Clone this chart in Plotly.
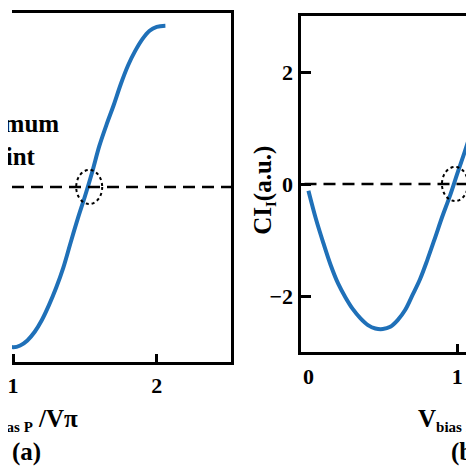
import plotly.graph_objects as go

# (a) normalised bias V_bias P / V_pi vs signal
bias_p = [0.95, 1.00, 1.05, 1.10, 1.15, 1.20, 1.25, 1.30, 1.35, 1.40, 1.45, 1.50,
          1.55, 1.60, 1.65, 1.70, 1.75, 1.80, 1.85, 1.90, 1.95, 2.00, 2.06]
sig_p = [-2.81, -2.86, -2.83, -2.74, -2.59, -2.38, -2.11, -1.80, -1.44, -1.00, -0.57, -0.17,
         0.26, 0.73, 1.11, 1.46, 1.84, 2.17, 2.43, 2.64, 2.79, 2.86, 2.88]

# (b) normalised bias V_bias I / V_pi vs CI_I (a.u.)
bias_i = [0.00, 0.05, 0.10, 0.15, 0.20, 0.25, 0.30, 0.35, 0.40, 0.45, 0.50, 0.55,
          0.60, 0.65, 0.70, 0.75, 0.80, 0.85, 0.90, 0.95, 1.00, 1.05, 1.10, 1.15]
ci_i = [-0.12, -0.62, -1.05, -1.45, -1.78, -2.03, -2.24, -2.40, -2.52, -2.58, -2.59, -2.55,
        -2.43, -2.25, -1.98, -1.70, -1.35, -0.97, -0.58, -0.22, 0.18, 0.57, 0.97, 1.34]

# operating points (circled)
op_a = (1.53, 0.0)
op_b = (0.985, 0.0)

# the page sits 8px in from the window corner, so positions below are window pixels minus 8
W = H = 466
OFF = 8
BLUE = '#1f70b8'
FONT = 'Liberation Serif'


def px(x):
    return (x - OFF) / W


def py(y):
    return 1 - (y - OFF) / H


fig = go.Figure()
fig.add_trace(go.Scatter(x=bias_p, y=sig_p, mode='lines', line=dict(color=BLUE, width=4, shape='spline'),
                         xaxis='x', yaxis='y', showlegend=False))
fig.add_trace(go.Scatter(x=bias_i, y=ci_i, mode='lines', line=dict(color=BLUE, width=4, shape='spline'),
                         xaxis='x2', yaxis='y2', showlegend=False))

tickfont = dict(family=FONT, size=22, color='black', weight='bold')
axis_common = dict(showgrid=False, zeroline=False, showline=True, linecolor='black', linewidth=3,
                   tickfont=tickfont, fixedrange=True)

fig.update_layout(
    width=W, height=H, margin=dict(l=0, r=0, t=0, b=0),
    plot_bgcolor='white', paper_bgcolor='white',
    xaxis=dict(axis_common, domain=[0, px(229)], range=[0.993, 2.517], tickvals=[1, 2],
               ticks='inside', ticklen=8, tickwidth=2.5, tickcolor='black', mirror=True,
               ticklabelstandoff=2, ticklabeloverflow='allow', anchor='y'),
    yaxis=dict(axis_common, domain=[py(362), py(13)], range=[-3.125, 3.107], side='right',
               mirror=False, showticklabels=False, ticks='', anchor='x'),
    xaxis2=dict(axis_common, domain=[px(299), 1], range=[-0.0533, 1.113], tickvals=[0, 1],
                ticks='', mirror=True, anchor='y2', ticklabelstandoff=3,
                minor=dict(tickvals=[1], ticks='inside', ticklen=8, tickwidth=2.5, tickcolor='black')),
    yaxis2=dict(axis_common, domain=[py(352), py(16)], range=[-3, 3], tickvals=[-2, 0, 2],
                ticks='inside', ticklen=10, tickwidth=2.5, tickcolor='black', side='left',
                mirror=False, anchor='x2'),
)

# dashed zero lines
fig.add_shape(type='line', xref='x domain', yref='y', x0=0, x1=1, y0=0, y1=0,
              line=dict(color='black', width=2.5, dash='12px,7px'))
fig.add_shape(type='line', xref='x2 domain', yref='y2', x0=0.023, x1=1, y0=0, y1=0,
              line=dict(color='black', width=2.5, dash='12px,7px'))

# dotted circles round the operating points
for xr, yr, (ox, oy) in [('x', 'y', op_a), ('x2', 'y2', op_b)]:
    fig.add_shape(type='circle', xref=xr, yref=yr, xsizemode='pixel', ysizemode='pixel',
                  xanchor=ox, yanchor=oy, x0=-13, x1=13, y0=-17, y1=17,
                  line=dict(color='black', width=2, dash='dot'))

big = dict(family=FONT, size=25, color='black', weight='bold')
sub = '<span style="font-size:15px">%s</span>'
fig.add_annotation(text='Optimum<br>point', x=px(3), y=py(140), xref='paper', yref='paper',
                   showarrow=False, font=big, xanchor='center', yanchor='middle')
fig.add_annotation(text='V<sub>' + sub % 'bias P' + '</sub> /Vπ', x=px(77), y=py(420),
                   xref='paper', yref='paper', showarrow=False, font=big, xanchor='right', yanchor='middle')
fig.add_annotation(text='V<sub>' + sub % 'bias I' + '</sub> /Vπ', x=px(415), y=py(420),
                   xref='paper', yref='paper', showarrow=False, font=big, xanchor='left', yanchor='middle')
fig.add_annotation(text='(a)', x=px(23), y=py(452), xref='paper', yref='paper',
                   showarrow=False, font=big, xanchor='center', yanchor='middle')
fig.add_annotation(text='(b)', x=px(449), y=py(452), xref='paper', yref='paper',
                   showarrow=False, font=big, xanchor='left', yanchor='middle')
fig.add_annotation(text='CI<sub>' + sub % 'I' + '</sub>(a.u.)', x=px(262), y=py(190),
                   xref='paper', yref='paper', showarrow=False, font=big, textangle=-90,
                   xanchor='center', yanchor='middle')

fig.write_html('out.html')
